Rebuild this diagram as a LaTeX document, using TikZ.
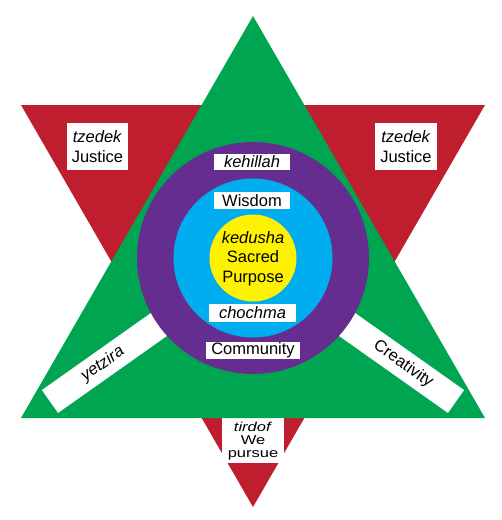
\documentclass[tikz,border=0pt]{standalone}
\usepackage{fontspec}
\usepackage{graphicx}
\setmainfont{Liberation Sans}
\definecolor{sred}{HTML}{BE1E2D}
\definecolor{sgreen}{HTML}{00A551}
\definecolor{spurple}{HTML}{662D91}
\definecolor{sblue}{HTML}{00AEEF}
\definecolor{syellow}{HTML}{FFF200}
\begin{document}
\begin{tikzpicture}[x=1pt,y=-1pt,
  every node/.style={font=\fontsize{16.5}{19.5}\selectfont, inner sep=0pt},
  whitebox/.style={fill=white, align=center},
  bandbox/.style={fill=white, minimum width=143.6, minimum height=28},
  bandtext/.style={},
]
\useasboundingbox (0,0) rectangle (502,520);
\coordinate (c) at (253,258);
% red inverted triangle
\fill[sred] (21,105) -- (485,105) -- (253,507) -- cycle;
% tirdof box (under green)
\node[whitebox, minimum width=62, minimum height=53] (tbox) at (253,436.5) {};
% green triangle
\fill[sgreen] (253,16) -- (21,418) -- (485,418) -- cycle;
% bands
\node[bandbox, rotate=35.26] (yband) at (108.6,360.05) {};
\node[bandbox, rotate=-35.26] (cband) at (397.4,360.05) {};
\node[bandtext, rotate=35.26] (ytext) at (102.75,364.2) {\textit{yetzira}};
\node[bandtext, rotate=-35.26] (ctext) at (403.25,364.2) {Creativity};
% circles
\fill[spurple] (c) circle[radius=116];
\fill[sblue] (c) circle[radius=79.5];
\fill[syellow] (c) circle[radius=43.5];
% tzedek boxes
\node[whitebox, minimum width=61, minimum height=47] (tzl) at (97.5,146.5) {\textit{tzedek}\\Justice};
\node[whitebox, minimum width=62, minimum height=47] (tzr) at (406,146.5) {\textit{tzedek}\\Justice};
% circle labels
\node[whitebox, minimum width=76, minimum height=16] (keh) at (252,162) {\textit{kehillah}};
\node[whitebox, minimum width=76, minimum height=17] (wis) at (252,200.5) {Wisdom};
\node[whitebox, minimum width=87, minimum height=18] (cho) at (252.5,313) {\textit{chochma}};
\node[whitebox, minimum width=94, minimum height=17] (com) at (253,350.5) {Community};
\node[align=center] (ked) at (253,258.5) {\textit{kedusha}\\Sacred\\Purpose};
% tirdof text
\node (ttext) at (253,442) {\fontsize{16.5}{16.5}\selectfont\scalebox{1}[0.78]{\begin{tabular}{@{}c@{}}\textit{tirdof}\\We\\pursue\end{tabular}}};
\end{tikzpicture}
\end{document}
